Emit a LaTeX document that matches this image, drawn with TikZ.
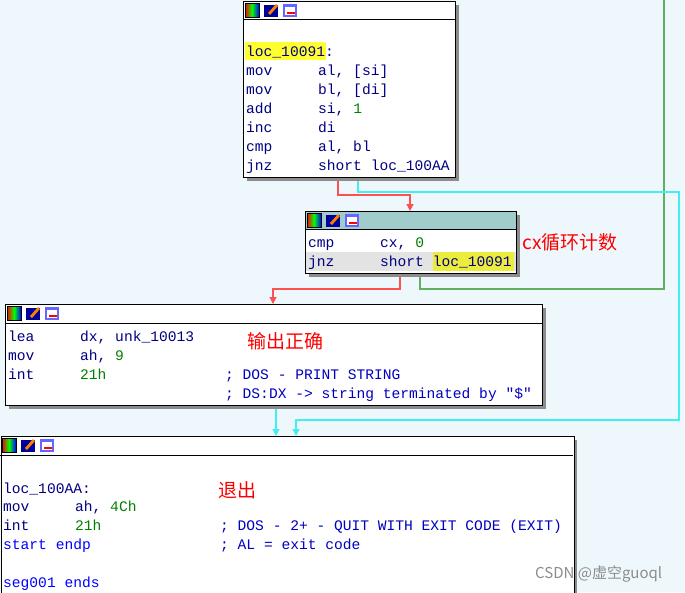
\documentclass[tikz,border=0pt]{standalone}
\usepackage{fontspec}
\setmonofont{Liberation Mono}
\newfontfamily\cjk{Noto Sans CJK SC}
\usetikzlibrary{arrows.meta}
\definecolor{bg}{HTML}{EEF8FC}
\definecolor{navy}{HTML}{000080}
\definecolor{num}{HTML}{008000}
\definecolor{cmt}{HTML}{0000C0}
\definecolor{hl}{HTML}{FFFF30}
\definecolor{hdr}{HTML}{A0CCCC}
\definecolor{cyanl}{HTML}{40F0F0}
\definecolor{greenl}{HTML}{60B060}
\definecolor{redl}{HTML}{FF5050}
\tikzset{
 asm/.style={anchor=base west,inner sep=0pt,font=\ttfamily\fontsize{14.6}{15}\selectfont,text=navy},
 lbl/.style={anchor=west,inner sep=0pt,font=\cjk\fontsize{19}{20}\selectfont,text=red},
 edge/.style={line width=1.2pt,-{Triangle[length=7pt,width=7pt]}},
 box/.style={draw=black,line width=1pt,fill=white},
 shadow/.style={fill=black!45},
}
\newcommand{\icons}[2]{%
 \fill[left color=red,right color=blue,middle color=green] (#1+2,#2+2) rectangle (#1+16,#2+16);
 \draw[black] (#1+2,#2+2) rectangle (#1+16,#2+16);
 \fill[blue!60!black] (#1+21,#2+4) rectangle (#1+35,#2+16);
 \fill[orange] (#1+25,#2+12) -- (#1+33,#2+3) -- (#1+35,#2+5) -- (#1+27,#2+14) -- cycle;
 \fill[blue!60] (#1+40,#2+3) rectangle (#1+54,#2+16);
 \fill[white] (#1+42,#2+6) rectangle (#1+52,#2+14);
 \fill[red] (#1+44,#2+11) rectangle (#1+52,#2+13);
}
\begin{document}
\begin{tikzpicture}[x=1pt,y=-1pt]
\fill[bg] (0,0) rectangle (685,592);
\useasboundingbox (0,0) rectangle (685,592);
\coordinate (a1) at (338,177); \coordinate (a2) at (358,177);
\coordinate (b1) at (410,211); \coordinate (b2) at (400,273); \coordinate (b3) at (420,273);
\coordinate (c1) at (273,304); \coordinate (c2) at (276,405);
\coordinate (d1) at (276,436); \coordinate (d2) at (296,436);
\coordinate (top) at (664,0);
\draw[greenl,line width=1.2pt] (b3) |- (664,289) -- (top);
\draw[cyanl,edge] (a2) |- (679,192) |- (296,420) -- (d2);
\draw[redl,edge] (a1) |- (410,195) -- (b1);
\draw[redl,edge] (b2) |- (273,289) -- (c1);
\draw[cyanl,edge] (c2) -- (d1);
% Box A
\fill[shadow] (247,5) rectangle (459,181);
\node[box,minimum width=212pt,minimum height=176pt,anchor=north west,inner sep=0pt] (A) at (243,1) {};
\draw[line width=1pt] (243,19) -- (455,19);
\icons{243}{1}
\fill[hl] (245,42) rectangle (326,60);
\node[asm] (a0) at (246,56) {loc\_10091:};
\node[asm] at (246,75) {mov}; \node[asm] at (318,75) {al, [si]};
\node[asm] at (246,94) {mov}; \node[asm] at (318,94) {bl, [di]};
\node[asm] at (246,113) {add}; \node[asm] at (318,113) {si, \textcolor{num}{1}};
\node[asm] at (246,132) {inc}; \node[asm] at (318,132) {di};
\node[asm] at (246,151) {cmp}; \node[asm] at (318,151) {al, bl};
\node[asm] at (246,170) {jnz}; \node[asm] at (318,170) {short loc\_100AA};
% Box B
\fill[shadow] (309,215) rectangle (520,277);
\node[box,minimum width=211pt,minimum height=62pt,anchor=north west,inner sep=0pt] (B) at (305,211) {};
\fill[hdr] (305.5,211.5) rectangle (515.5,229);
\draw[line width=1pt] (305,229) -- (516,229);
\icons{305}{211}
\fill[black!11] (306,252) rectangle (515.5,271);
\fill[hl!85!gray] (433,252) rectangle (514,271);
\node[asm] at (308,247) {cmp}; \node[asm] at (380,247) {cx, \textcolor{num}{0}};
\node[asm] at (308,266) {jnz}; \node[asm] at (380,266) {short loc\_10091};
\node[lbl] (lb) at (522,242) {cx循环计数};
% Box C
\fill[shadow] (9,308) rectangle (546,409);
\node[box,minimum width=537pt,minimum height=101pt,anchor=north west,inner sep=0pt] (C) at (5,304) {};
\draw[line width=1pt] (5,323) -- (542,323);
\icons{5}{304}
\node[asm] at (8,341) {lea}; \node[asm] at (80,341) {dx, unk\_10013};
\node[asm] at (8,360) {mov}; \node[asm] at (80,360) {ah, \textcolor{num}{9}};
\node[asm] at (8,379) {int}; \node[asm,text=num] at (80,379) {21h};
\node[asm,text=cmt] at (225,379) {; DOS - PRINT STRING};
\node[asm,text=cmt] at (225,398) {; DS:DX -> string terminated by "\$"};
\node[lbl] (lc) at (247,341) {输出正确};
% Box D
\fill[shadow] (4,440) rectangle (577,600);
\node[box,minimum width=573pt,minimum height=170pt,anchor=north west,inner sep=0pt] (D) at (0.5,436) {};
\draw[line width=1pt] (0,455) -- (573,455);
\icons{0}{436}
\node[asm] at (3,493) {loc\_100AA:};
\node[asm] at (3,511) {mov}; \node[asm] at (75,511) {ah, \textcolor{num}{4Ch}};
\node[asm] at (3,530) {int}; \node[asm,text=num] at (75,530) {21h};
\node[asm,text=cmt] at (220,530) {; DOS - 2+ - QUIT WITH EXIT CODE (EXIT)};
\node[asm,text=blue] at (3,549) {start endp};
\node[asm,text=cmt] at (220,549) {; AL = exit code};
\node[asm,text=blue] at (3,587) {seg001 ends};
\node[lbl] (ld) at (218,490) {退出};
\node[anchor=west,inner sep=0pt,font=\cjk\fontsize{15}{16}\selectfont,text=black!45] (wm) at (535,574) {CSDN @虚空guoql};
\end{tikzpicture}
\end{document}
